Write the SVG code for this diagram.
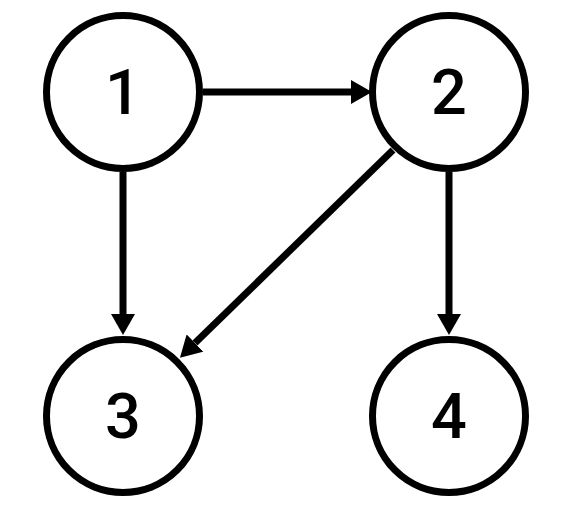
<svg xmlns="http://www.w3.org/2000/svg" width="572" height="514" viewBox="0 0 572 514">
  <style>
    .node circle { fill: #ffffff; stroke: #000000; stroke-width: 7; }
    .node text { font-family: Roboto, "Liberation Sans", sans-serif; font-size: 63px; font-weight: 500; fill: #000000; text-anchor: middle; dominant-baseline: central; }
    .edge { stroke: #000000; stroke-width: 7; fill: none; marker-end: url(#arrow); }
  </style>
  <defs>
    <marker id="arrow" markerUnits="userSpaceOnUse" markerWidth="21" markerHeight="24" refX="0" refY="12" orient="auto">
      <path d="M0,0 L21,12 L0,24 z" fill="#000000"/>
    </marker>
  </defs>
  <rect width="572" height="514" fill="#ffffff"/>
  <g id="connectors">
    <line class="edge" x1="203" y1="92" x2="351" y2="92"/>
    <line class="edge" x1="123" y1="172" x2="123" y2="314"/>
    <line class="edge" x1="449" y1="172" x2="449" y2="314"/>
    <line class="edge" x1="393" y1="150" x2="195" y2="343"/>
  </g>
  <g id="node1" class="node">
    <circle cx="123" cy="92" r="76.5"/>
    <text x="123" y="92">1</text>
  </g>
  <g id="node2" class="node">
    <circle cx="449" cy="92" r="76.5"/>
    <text x="449" y="92">2</text>
  </g>
  <g id="node3" class="node">
    <circle cx="123" cy="416" r="76.5"/>
    <text x="123" y="416">3</text>
  </g>
  <g id="node4" class="node">
    <circle cx="449" cy="416" r="76.5"/>
    <text x="449" y="416">4</text>
  </g>
</svg>
